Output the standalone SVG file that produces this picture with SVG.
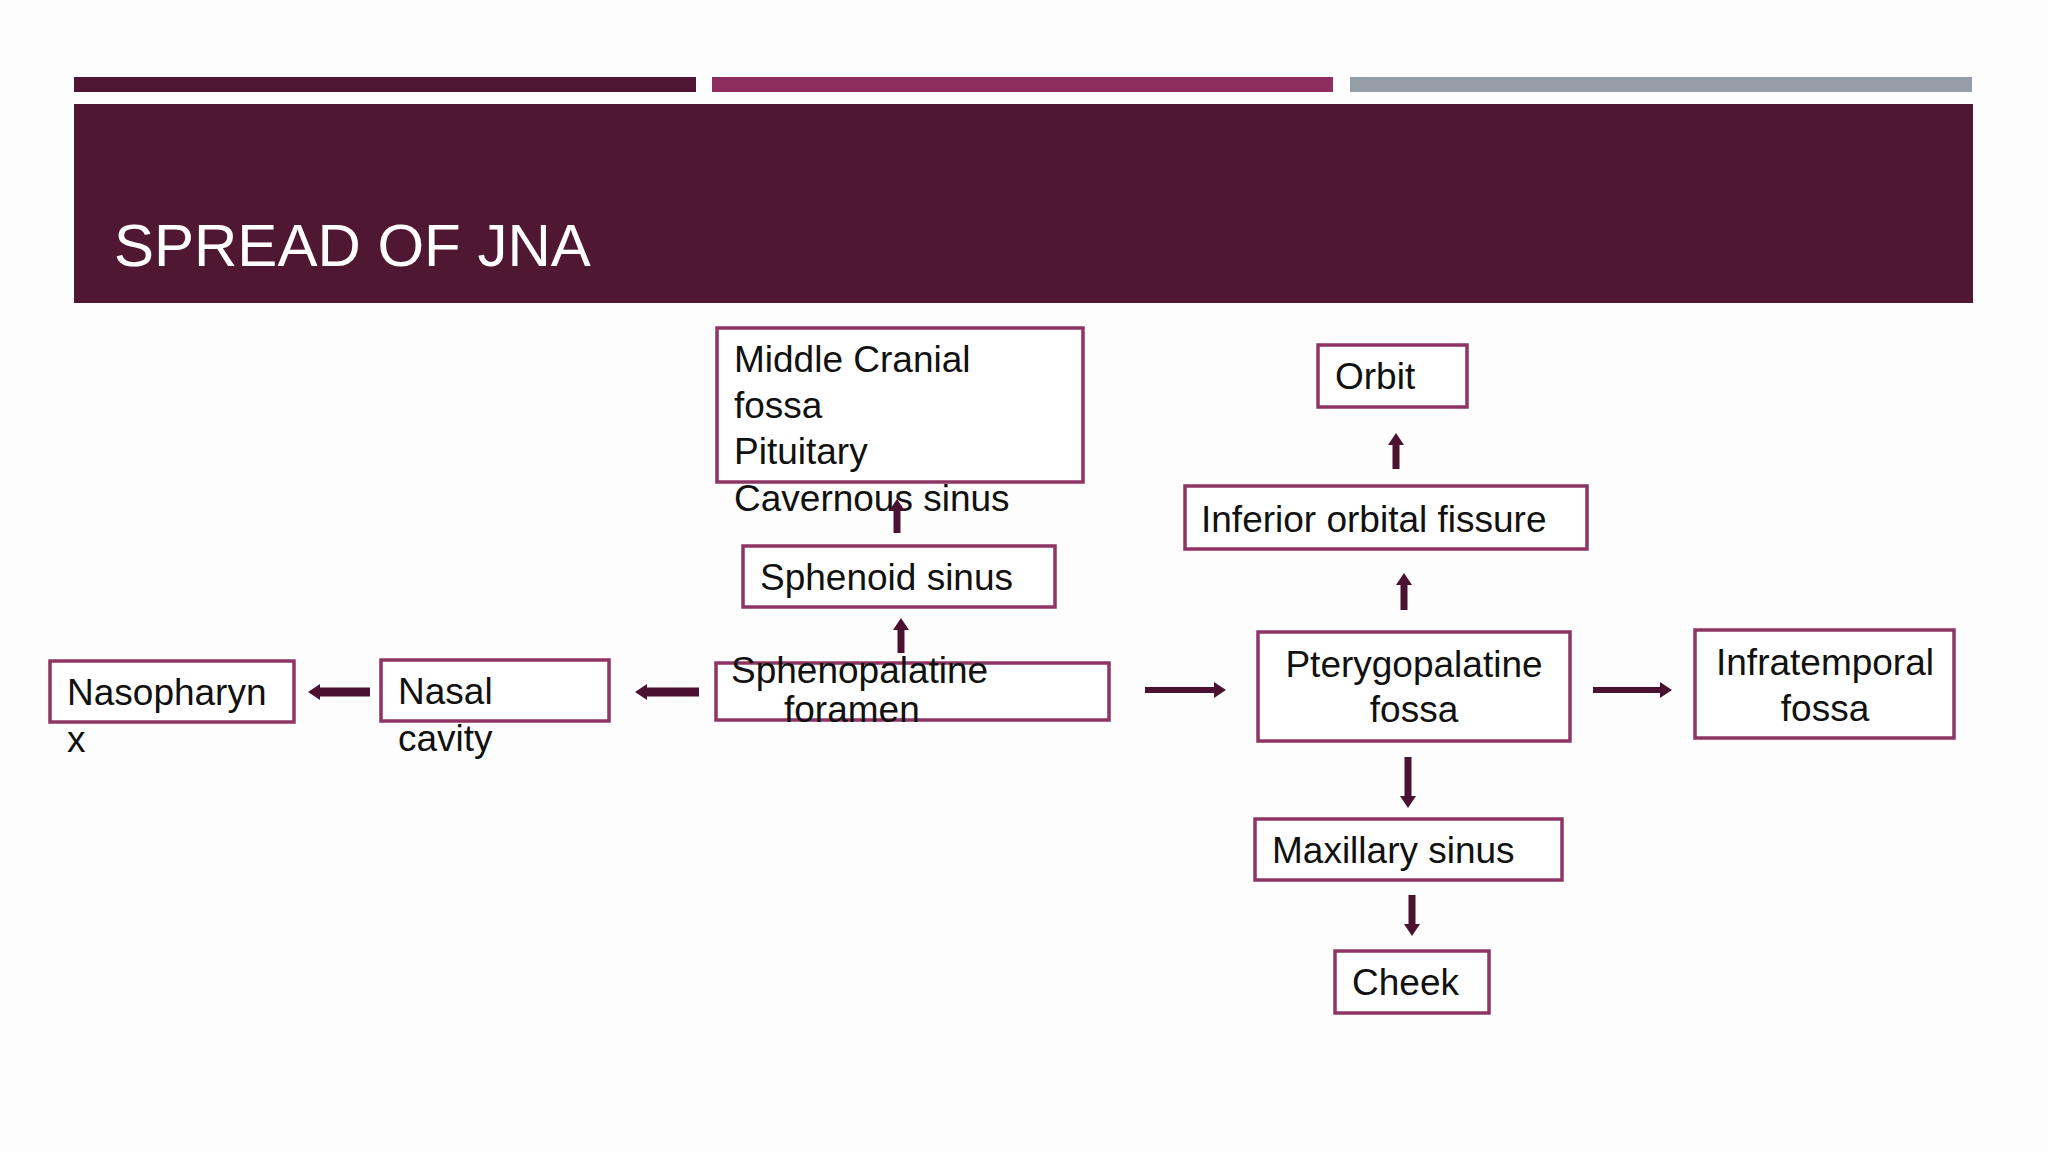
<svg xmlns="http://www.w3.org/2000/svg" width="2048" height="1152" viewBox="0 0 2048 1152">
<style>
.box{fill:#fff;stroke:#8e3563;stroke-width:3.5}
.t{font-family:"Liberation Sans",Arial,sans-serif;font-size:37px;fill:#111}
.c{text-anchor:middle}
.a{stroke:#4a1230;stroke-width:7;fill:none;marker-end:url(#h)}
</style>
<defs>
<marker id="h" markerUnits="userSpaceOnUse" markerWidth="14" markerHeight="16" refX="2" refY="8" orient="auto">
<path d="M0,0 L12,8 L0,16 Z" fill="#4a1230"/>
</marker>
</defs>
<rect width="2048" height="1152" fill="#fdfdfd"/>
<rect x="74" y="77" width="622" height="15" fill="#4f1632"/>
<rect x="712" y="77" width="621" height="15" fill="#8e2e5e"/>
<rect x="1350" y="77" width="622" height="15" fill="#959ea6"/>
<rect x="74" y="104" width="1899" height="199" fill="#501733"/>
<text x="114" y="266" font-family="Liberation Sans,Arial,sans-serif" font-size="60" fill="#fff">SPREAD OF JNA</text>
<g id="middle"><rect class="box" x="717" y="328" width="366" height="154"/>
<text class="t" x="734" y="372">Middle Cranial</text><text class="t" x="734" y="418">fossa</text><text class="t" x="734" y="464">Pituitary</text><text class="t" x="734" y="511">Cavernous sinus</text></g>
<g id="sphenoid"><rect class="box" x="743" y="546" width="312" height="61"/><text class="t" x="760" y="590">Sphenoid sinus</text></g>
<g id="sphenopalatine"><rect class="box" x="716" y="663" width="393" height="57"/><text class="t" x="731" y="683">Sphenopalatine</text><text class="t" x="784" y="722">foramen</text></g>
<g id="nasal"><rect class="box" x="381" y="660" width="228" height="61"/><text class="t" x="398" y="704">Nasal</text><text class="t" x="398" y="751">cavity</text></g>
<g id="nasopharynx"><rect class="box" x="50" y="661" width="244" height="61"/><text class="t" x="67" y="705">Nasopharyn</text><text class="t" x="67" y="752">x</text></g>
<g id="orbit"><rect class="box" x="1318" y="345" width="149" height="62"/><text class="t" x="1335" y="389">Orbit</text></g>
<g id="iof"><rect class="box" x="1185" y="486" width="402" height="63"/><text class="t" x="1201" y="532">Inferior orbital fissure</text></g>
<g id="ptery"><rect class="box" x="1258" y="632" width="312" height="109"/><text class="t c" x="1414" y="677">Pterygopalatine</text><text class="t c" x="1414" y="722">fossa</text></g>
<g id="infra"><rect class="box" x="1695" y="630" width="259" height="108"/><text class="t c" x="1825" y="675">Infratemporal</text><text class="t c" x="1825" y="721">fossa</text></g>
<g id="maxillary"><rect class="box" x="1255" y="819" width="307" height="61"/><text class="t" x="1272" y="863">Maxillary sinus</text></g>
<g id="cheek"><rect class="box" x="1335" y="951" width="154" height="62"/><text class="t" x="1352" y="995">Cheek</text></g>
<g id="connectors">
<line class="a" x1="370" y1="692" x2="318" y2="692" style="stroke-width:9"/>
<line class="a" x1="699" y1="692" x2="645" y2="692" style="stroke-width:9"/>
<line class="a" x1="1145" y1="690" x2="1216" y2="690" style="stroke-width:6"/>
<line class="a" x1="1593" y1="690" x2="1662" y2="690" style="stroke-width:6"/>
<line class="a" x1="897" y1="533" x2="897" y2="509"/>
<line class="a" x1="901" y1="653" x2="901" y2="628"/>
<line class="a" x1="1396" y1="469" x2="1396" y2="443"/>
<line class="a" x1="1404" y1="610" x2="1404" y2="583"/>
<line class="a" x1="1408" y1="757" x2="1408" y2="798"/>
<line class="a" x1="1412" y1="895" x2="1412" y2="926"/>
</g>
</svg>
